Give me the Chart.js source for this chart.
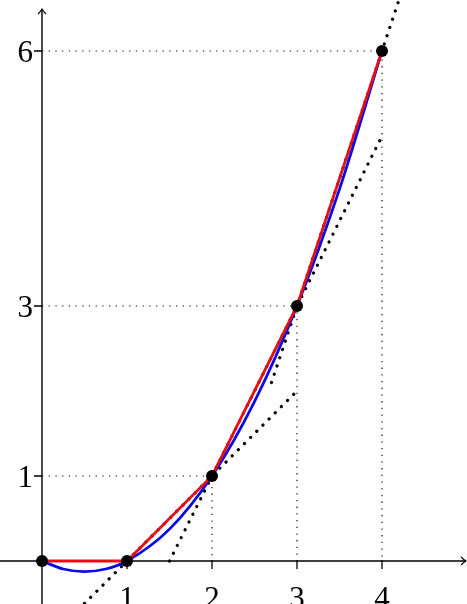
<!DOCTYPE html>
<html>
<head>
<meta charset="utf-8">
<script src="https://cdn.jsdelivr.net/npm/chart.js@4/dist/chart.umd.min.js"></script>
<style>
html,body{margin:0;padding:0;background:#fff;}
#wrap{width:467px;height:604px;}
</style>
</head>
<body>
<div id="wrap"><canvas id="c" width="467" height="604"></canvas></div>
<script>
// Data points (marked)
const pointsX = [0, 1, 2, 3, 4];
const pointsY = [0, 0, 1, 3, 6];
// Blue smooth curve samples
const curveX = [0, 0.25, 0.5, 0.75, 1, 1.5, 2, 2.5, 3, 3.5, 4];
const curveY = [0, -0.094, -0.125, -0.094, 0, 0.375, 1, 1.875, 3, 4.375, 6];
// Dotted secant lines (endpoints)
const sec1X = [0.5, 3];   const sec1Y = [-0.5, 2];
const sec2X = [1.5, 4];   const sec2Y = [0, 5];
const sec3X = [2.7, 4.3]; const sec3Y = [2.1, 6.9];
// Tick labels
const xTicks = [1, 2, 3, 4];
const yTicks = [1, 3, 6];

const toXY = (xs, ys) => xs.map((x, i) => ({x: x, y: ys[i]}));

const guideSets = [];
pointsX.forEach((x, i) => {
  if (x >= 2) {
    guideSets.push({
      data: [{x: 0, y: pointsY[i]}, {x: x, y: pointsY[i]}, {x: x, y: 0}],
      borderColor: '#111', borderWidth: 1.2, borderDash: [1.3, 5.4],
      pointRadius: 0, fill: false, tension: 0, showLine: true
    });
  }
});

const secStyle = {borderColor: '#000', borderWidth: 3.2, borderDash: [0.1, 8.6],
  borderCapStyle: 'round', pointRadius: 0, fill: false, tension: 0, showLine: true};

const LABEL_FONT = '31px "Liberation Serif"';

const axesPlugin = {
  id: 'axes',
  beforeDatasetsDraw(chart) {
    const ctx = chart.ctx, xs = chart.scales.x, ys = chart.scales.y;
    const ox = xs.getPixelForValue(0), oy = ys.getPixelForValue(0);
    ctx.save();
    ctx.strokeStyle = '#000';
    ctx.lineWidth = 1.4;
    ctx.beginPath();
    ctx.moveTo(0, oy); ctx.lineTo(466, oy);
    ctx.moveTo(ox, 604); ctx.lineTo(ox, 9);
    ctx.stroke();
    ctx.lineWidth = 1.1;
    ctx.beginPath();
    ctx.moveTo(ox - 4, 14); ctx.quadraticCurveTo(ox - 1, 11, ox, 9); ctx.quadraticCurveTo(ox + 1, 11, ox + 4, 14);
    ctx.moveTo(461, oy - 4); ctx.quadraticCurveTo(464, oy - 1, 466, oy); ctx.quadraticCurveTo(464, oy + 1, 461, oy + 4);
    ctx.stroke();
    ctx.lineWidth = 1.3;
    ctx.beginPath();
    xTicks.forEach(v => { const px = xs.getPixelForValue(v); ctx.moveTo(px, oy - 1); ctx.lineTo(px, oy + 8); });
    yTicks.forEach(v => { const py = ys.getPixelForValue(v); ctx.moveTo(ox - 8, py); ctx.lineTo(ox, py); });
    ctx.stroke();
    ctx.fillStyle = '#000';
    ctx.font = LABEL_FONT;
    ctx.textBaseline = 'alphabetic';
    ctx.textAlign = 'center';
    xTicks.forEach(v => ctx.fillText(String(v), xs.getPixelForValue(v), oy + 47));
    ctx.textAlign = 'right';
    yTicks.forEach(v => ctx.fillText(String(v), ox - 9, ys.getPixelForValue(v) + 10.5));
    ctx.restore();
  }
};

function build() {
  new Chart(document.getElementById('c'), {
    type: 'scatter',
    data: {
      datasets: [
        {data: toXY(pointsX, pointsY), pointRadius: 6, pointBackgroundColor: '#000',
         pointBorderColor: '#000', pointBorderWidth: 0, showLine: false},
        {data: toXY(pointsX, pointsY), borderColor: 'rgb(228,16,20)', borderWidth: 2.8,
         pointRadius: 0, showLine: true, tension: 0, fill: false},
        {data: toXY(curveX, curveY), borderColor: 'rgb(10,10,230)', borderWidth: 2.8,
         pointRadius: 0, showLine: true, cubicInterpolationMode: 'monotone', fill: false},
        Object.assign({data: toXY(sec1X, sec1Y)}, secStyle),
        Object.assign({data: toXY(sec2X, sec2Y)}, secStyle),
        Object.assign({data: toXY(sec3X, sec3Y)}, secStyle),
        ...guideSets
      ]
    },
    options: {
      responsive: false,
      animation: false,
      devicePixelRatio: 1,
      layout: {padding: 0, autoPadding: false},
      plugins: {legend: {display: false}, tooltip: {enabled: false}},
      events: [],
      scales: {
        x: {type: 'linear', display: false, min: -42 / 85, max: 425 / 85},
        y: {type: 'linear', display: false, min: -43 / 85, max: 561 / 85}
      }
    },
    plugins: [axesPlugin]
  });
}
if (document.fonts && document.fonts.load) {
  document.fonts.load(LABEL_FONT, '0123456789').then(build, build);
} else { build(); }
</script>
</body>
</html>
